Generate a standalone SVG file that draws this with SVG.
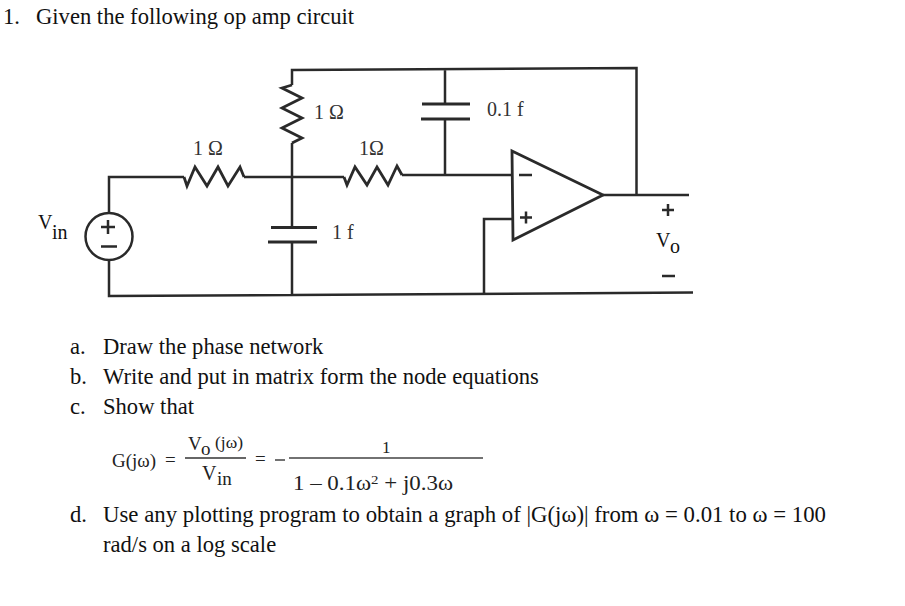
<svg xmlns="http://www.w3.org/2000/svg" width="905" height="606" viewBox="0 0 905 606">
<style>
text{font-family:"Liberation Serif","Times New Roman",serif;fill:#111}
.q{font-size:22.600px}
.l{font-size:20px;fill:#333}
.f{font-size:19px;fill:#222}
.w{fill:none;stroke:#2a2a2a;stroke-width:2.500;stroke-linejoin:miter}
.h{fill:none;stroke:#2a2a2a;stroke-width:2.800}
</style>
<rect width="905" height="606" fill="#fff"/>
<g id="connectors">
<path class="w" d="M109 213V177H184M244 177H344M402 175H512M292 143V227M292 242V295M292 85V70L636.500 68V195M445 69V104M445 119V175M109 260V296L292 295L693 292.500M484 293V219H512M603 195H689"/>
</g>
<g id="source"><circle class="w" cx="109" cy="236.500" r="23.500"/><path class="w" d="M101 227H115M108 220V234M101 246.500H117"/></g>
<g id="r1"><path class="h" d="M184 177L187 186L195 167L207 186L218 167L228 186L240 167L244 177"/><text class="l" x="193" y="155">1 Ω</text></g>
<g id="r2"><path class="h" d="M292 85L282 88L302 98L282 108L302 118L282 128L302 138L292 143"/><text class="l" x="314" y="119">1 Ω</text></g>
<g id="r3"><path class="h" d="M344 177L347 185L355 167L367 185L377 167L388 185L397 166L402 175"/><text class="l" x="359" y="155">1Ω</text></g>
<g id="c1"><path class="h" d="M271 227.500H317M268 242H317"/><text class="l" x="332" y="239">1 f</text></g>
<g id="c2"><path class="h" d="M422 104H470M421 119H470"/><text class="l" x="487" y="116">0.1 f</text></g>
<g id="opamp"><path class="h" d="M512 151L603 195L513 240Z"/><path class="w" d="M519 175H532M520 217.500H532M526 211.500V223.500"/></g>
<g id="vin"><text x="38" y="229" style="font-size:20px">V</text><text x="52" y="239" style="font-size:20px">in</text></g>
<g id="vo"><path class="w" d="M662 210H674M668 204V216M662 276H675"/><text x="656" y="247" style="font-size:20px">V</text><text x="670" y="253" style="font-size:20px">o</text></g>
<g id="text">
<text class="q" x="3" y="24">1.</text><text class="q" x="36" y="24">Given the following op amp circuit</text>
<text class="q" x="70" y="354">a.</text><text class="q" x="103" y="354">Draw the phase network</text>
<text class="q" x="70" y="384">b.</text><text class="q" x="103" y="384">Write and put in matrix form the node equations</text>
<text class="q" x="70" y="414">c.</text><text class="q" x="103" y="414">Show that</text>
<text class="q" x="70" y="522">d.</text><text class="q" x="103" y="522" textLength="723" lengthAdjust="spacingAndGlyphs">Use any plotting program to obtain a graph of |G(jω)| from ω = 0.01 to ω = 100</text>
<text class="q" x="103" y="552">rad/s on a log scale</text>
</g>
<g id="equation">
<text class="f" x="112" y="467" textLength="44" lengthAdjust="spacingAndGlyphs">G(jω)</text><text class="f" x="165" y="466">=</text>
<text class="f" x="188" y="450">V</text><text class="f" x="201" y="455">o</text><text class="f" x="215" y="448" textLength="28" lengthAdjust="spacingAndGlyphs" style="font-size:17px">(jω)</text>
<path d="M185 458H246" stroke="#333" stroke-width="1.300"/>
<text class="f" x="202" y="480" style="font-size:20px">V</text><text class="f" x="217" y="485" style="font-size:19px">in</text>
<text class="f" x="255" y="465">=</text>
<path d="M275 460H285M289 458H483" stroke="#444" stroke-width="1.300"/>
<text class="f" x="382" y="453" style="font-size:17px">1</text>
<text class="f" x="293" y="490" textLength="160" lengthAdjust="spacingAndGlyphs" style="font-size:20px">1 – 0.1ω<tspan dy="-6" style="font-size:13px">2</tspan><tspan dy="6"> + j0.3ω</tspan></text>
</g>
</svg>
